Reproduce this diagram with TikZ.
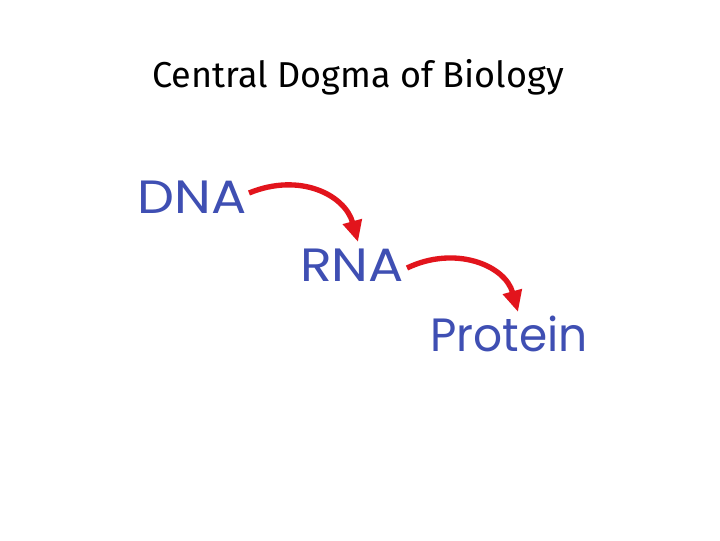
\documentclass[tikz,border=0pt]{standalone}
\usepackage{fontspec}
\setmainfont{Poppins}
\newfontfamily\titlefont{Fira Sans}
\usetikzlibrary{arrows.meta}
\definecolor{dnablue}{HTML}{3F4FB3}
\definecolor{arrred}{HTML}{E2141C}
\tikzset{
  word/.style={font=\fontsize{35}{35}\selectfont, text=dnablue, inner sep=0pt, anchor=center, xscale=1.12},
  flow/.style={draw=arrred, line width=4pt, -{Triangle[length=16pt,width=14pt]}},
}
\begin{document}
\begin{tikzpicture}[x=0.75pt,y=-0.75pt]
\useasboundingbox (0,0) rectangle (720,540);
\fill[white] (0,0) rectangle (720,540);
\node[font=\titlefont\fontsize{27}{27}\selectfont, inner sep=0pt] (title) at (358,77) {Central Dogma of Biology};
\node[word] (dna) at (192,197) {DNA};
\node[word] (rna) at (352,265) {RNA};
\node[word, xscale=0.87] (prot) at (509,334) {Protein};
\coordinate (a1s) at (249,193);
\coordinate (a1e) at (358,242);
\coordinate (a2s) at (407,268);
\coordinate (a2e) at (518,312);
\draw[flow] (a1s) .. controls (300,172) and (345,195) .. (a1e);
\draw[flow] (a2s) .. controls (455,245) and (505,265) .. (a2e);
\end{tikzpicture}
\end{document}
